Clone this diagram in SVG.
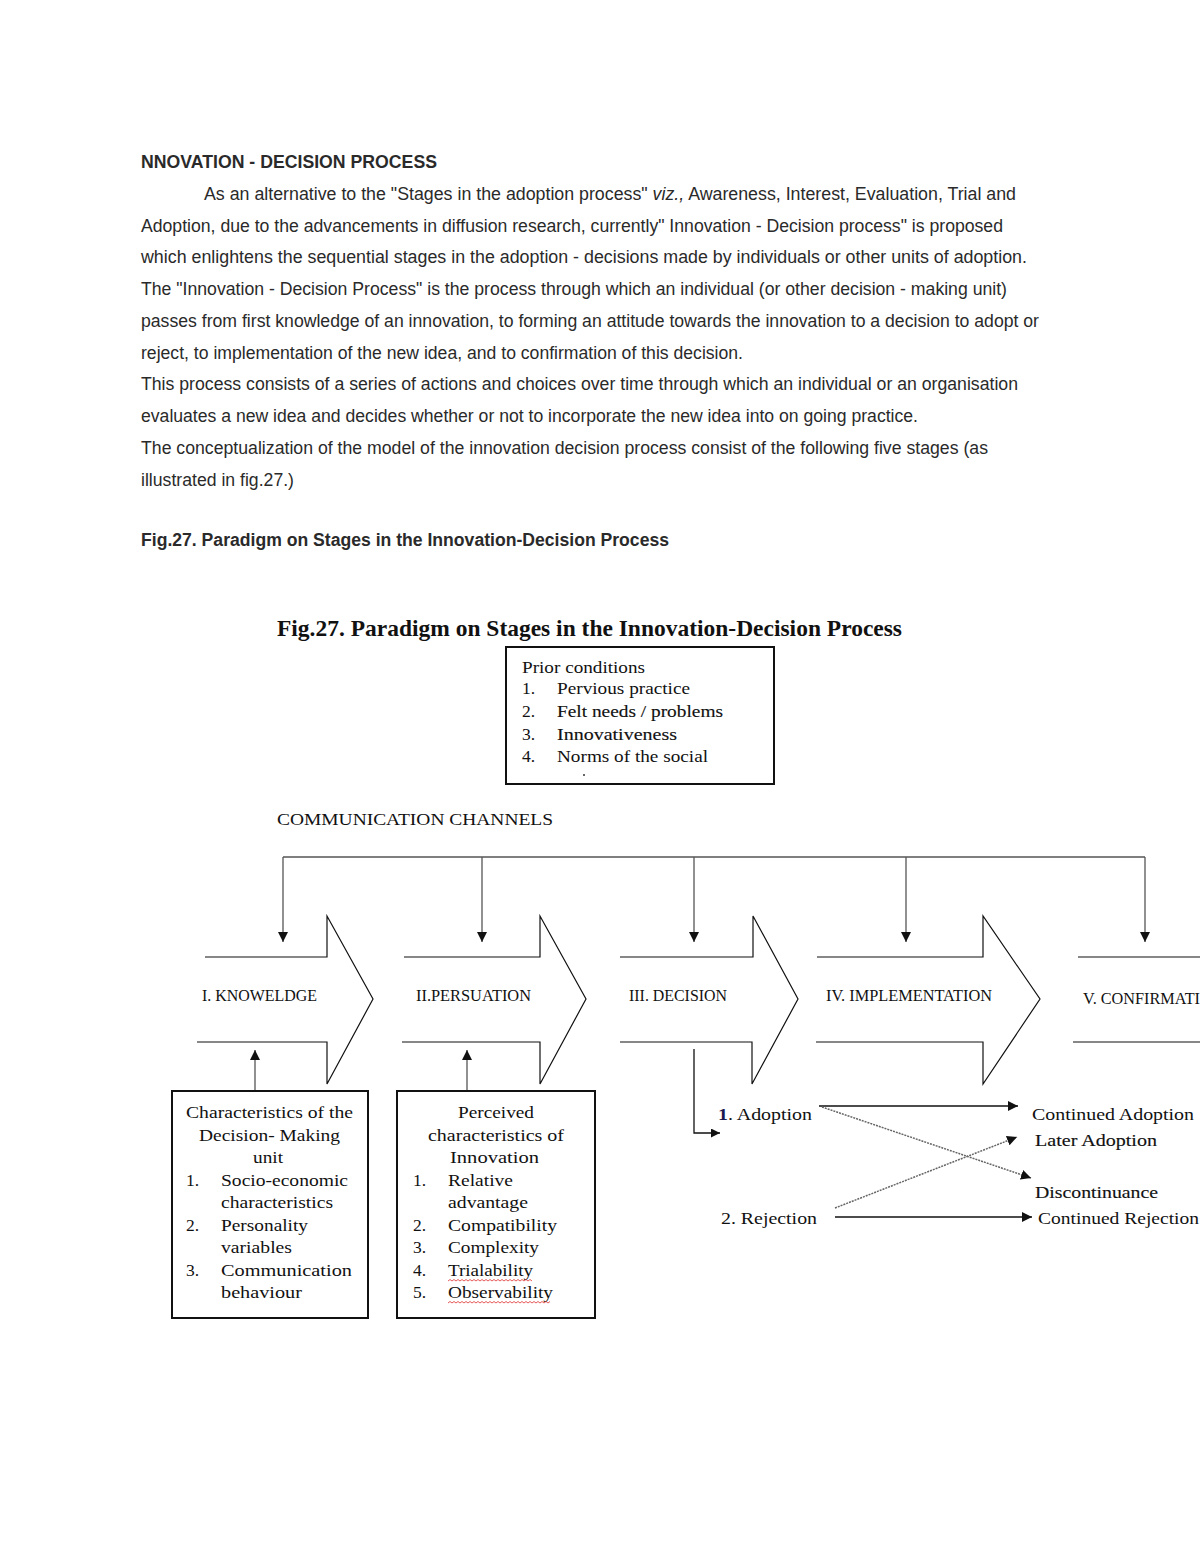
<svg xmlns="http://www.w3.org/2000/svg" width="1200" height="1553" viewBox="0 0 1200 1553">
<style>
.p{font-family:"Liberation Sans",Arial,sans-serif;font-size:17.5px;fill:#2a2a2a}
.pb{font-family:"Liberation Sans",Arial,sans-serif;font-size:17.5px;font-weight:bold;fill:#2a2a2a}
.s{font-family:"Liberation Serif","Times New Roman",serif;font-size:17.5px;fill:#111}
.st{font-family:"Liberation Serif","Times New Roman",serif;font-size:16px;fill:#111}
.t{font-family:"Liberation Serif","Times New Roman",serif;font-size:23px;font-weight:bold;fill:#111}
.hv{stroke:#111;stroke-width:0.15}
.box{fill:none;stroke:#111;stroke-width:2}
.chev{fill:none;stroke:#111;stroke-width:1.2}
.cc{fill:none;stroke:#555;stroke-width:1.3}
.ar{fill:none;stroke:#111;stroke-width:1.3}
.dot{fill:none;stroke:#666;stroke-width:1.5;stroke-dasharray:2 1}
.wavy{fill:none;stroke:#e03030;stroke-width:0.8}
</style>
<defs>
<marker id="ah" viewBox="0 0 10 10" refX="10" refY="5" markerWidth="10" markerHeight="10" markerUnits="userSpaceOnUse" orient="auto"><path d="M0,0 L10,5 L0,10 z" fill="#111"/></marker>
<marker id="ahs" viewBox="0 0 10 10" refX="10" refY="5" markerWidth="9" markerHeight="9" markerUnits="userSpaceOnUse" orient="auto"><path d="M0,0 L10,5 L0,10 z" fill="#111"/></marker>
</defs>
<rect width="1200" height="1553" fill="#fff"/>

<g id="text-body">
<text class="pb" x="141" y="168" textLength="296" lengthAdjust="spacingAndGlyphs">NNOVATION - DECISION PROCESS</text>
<text class="p" x="204" y="200" textLength="812" lengthAdjust="spacingAndGlyphs">As an alternative to the "Stages in the adoption process" <tspan font-style="italic">viz.,</tspan>  Awareness, Interest, Evaluation, Trial and</text>
<text class="p" x="141" y="232" textLength="862" lengthAdjust="spacingAndGlyphs">Adoption, due to the advancements in diffusion research, currently" Innovation - Decision process" is proposed</text>
<text class="p" x="141" y="263" textLength="886" lengthAdjust="spacingAndGlyphs">which  enlightens  the sequential stages in the adoption - decisions made by individuals or other units of adoption.</text>
<text class="p" x="141" y="295" textLength="866" lengthAdjust="spacingAndGlyphs">The "Innovation - Decision Process" is the process through which an individual (or other decision - making unit)</text>
<text class="p" x="141" y="327" textLength="898" lengthAdjust="spacingAndGlyphs">passes from first knowledge of an innovation, to forming an attitude towards the innovation to a decision to adopt or</text>
<text class="p" x="141" y="359" textLength="602" lengthAdjust="spacingAndGlyphs">reject, to implementation of the new idea, and to confirmation of this decision.</text>
<text class="p" x="141" y="390" textLength="877" lengthAdjust="spacingAndGlyphs">This process consists of a series of actions and choices over time through which an individual or an organisation</text>
<text class="p" x="141" y="422" textLength="777" lengthAdjust="spacingAndGlyphs">evaluates a new idea and decides whether or not to incorporate the new idea into on going practice.</text>
<text class="p" x="141" y="454" textLength="847" lengthAdjust="spacingAndGlyphs">The conceptualization of the model of the innovation decision process consist of the following five stages (as</text>
<text class="p" x="141" y="486" textLength="153" lengthAdjust="spacingAndGlyphs">illustrated in fig.27.)</text>
<text class="pb" x="141" y="546" textLength="528" lengthAdjust="spacingAndGlyphs">Fig.27. Paradigm on Stages in the Innovation-Decision Process</text>
</g>

<g id="diagram-title">
<text class="t" x="277" y="636" textLength="625" lengthAdjust="spacingAndGlyphs">Fig.27. Paradigm on Stages in the Innovation-Decision Process</text>
</g>

<g id="prior-conditions">
<rect class="box" x="506" y="647" width="268" height="137"/>
<text class="s" x="522" y="673" textLength="123" lengthAdjust="spacingAndGlyphs">Prior conditions</text>
<text class="s" x="522" y="694">1.</text>
<text class="s" x="557" y="694" textLength="133" lengthAdjust="spacingAndGlyphs">Pervious practice</text>
<text class="s" x="522" y="717">2.</text>
<text class="s hv" x="557" y="717" textLength="166" lengthAdjust="spacingAndGlyphs">Felt needs / problems</text>
<text class="s" x="522" y="740">3.</text>
<text class="s hv" x="557" y="740" textLength="120" lengthAdjust="spacingAndGlyphs">Innovativeness</text>
<text class="s" x="522" y="762">4.</text>
<text class="s" x="557" y="762" textLength="151" lengthAdjust="spacingAndGlyphs">Norms of the social</text>
<circle cx="584" cy="775" r="1" fill="#333"/>
</g>

<g id="communication-channels">
<text class="s" x="277" y="825" textLength="276" lengthAdjust="spacingAndGlyphs">COMMUNICATION CHANNELS</text>
</g>

<g id="connectors">
<path class="cc" d="M283,857 H1145"/>
<path class="cc" d="M283,857 V942" marker-end="url(#ah)"/>
<path class="cc" d="M482,857 V942" marker-end="url(#ah)"/>
<path class="cc" d="M694,857 V942" marker-end="url(#ah)"/>
<path class="cc" d="M906,857 V942" marker-end="url(#ah)"/>
<path class="cc" d="M1145,857 V942" marker-end="url(#ah)"/>
<path class="cc" d="M255,1090 V1050" marker-end="url(#ah)"/>
<path class="cc" d="M467,1090 V1050" marker-end="url(#ah)"/>
<path class="ar" d="M694,1049 V1133 H720" marker-end="url(#ahs)"/>
<path class="ar" d="M819,1106 H1018" marker-end="url(#ah)"/>
<path class="ar" d="M835,1217 H1032" marker-end="url(#ah)"/>
<path class="dot" d="M822,1107 L1031,1178" marker-end="url(#ah)"/>
<path class="dot" d="M835,1208 L1017,1137" marker-end="url(#ah)"/>
</g>

<g id="stage-knowledge">
<path class="chev" d="M205,957 H327 V916 L373,999 L327,1084 V1042 H197"/>
<text class="st" x="202" y="1001" textLength="115" lengthAdjust="spacingAndGlyphs">I. KNOWELDGE</text>
</g>
<g id="stage-persuasion">
<path class="chev" d="M404,957 H540 V916 L586,999 L540,1084 V1042 H402"/>
<text class="st" x="416" y="1001" textLength="115" lengthAdjust="spacingAndGlyphs">II.PERSUATION</text>
</g>
<g id="stage-decision">
<path class="chev" d="M620,957 H753 V916 L798,999 L752,1084 V1042 H620"/>
<text class="st" x="629" y="1001" textLength="98" lengthAdjust="spacingAndGlyphs">III. DECISION</text>
</g>
<g id="stage-implementation">
<path class="chev" d="M817,957 H983 V916 L1040,999 L983,1084 V1042 H816"/>
<text class="st" x="826" y="1001" textLength="166" lengthAdjust="spacingAndGlyphs">IV. IMPLEMENTATION</text>
</g>
<g id="stage-confirmation">
<path class="chev" d="M1078,957 H1200 M1073,1042 H1200"/>
<text class="st" x="1083" y="1004" textLength="117" lengthAdjust="spacingAndGlyphs">V. CONFIRMATI</text>
</g>

<g id="decision-unit-box">
<rect class="box" x="172" y="1091" width="196" height="227"/>
<text class="s" x="186" y="1118" textLength="167" lengthAdjust="spacingAndGlyphs">Characteristics of the</text>
<text class="s" x="199" y="1141" textLength="141" lengthAdjust="spacingAndGlyphs">Decision- Making</text>
<text class="s" x="253" y="1163" textLength="30" lengthAdjust="spacingAndGlyphs">unit</text>
<text class="s" x="186" y="1186">1.</text>
<text class="s" x="221" y="1186" textLength="127" lengthAdjust="spacingAndGlyphs">Socio-economic</text>
<text class="s" x="221" y="1208" textLength="112" lengthAdjust="spacingAndGlyphs">characteristics</text>
<text class="s" x="186" y="1231">2.</text>
<text class="s" x="221" y="1231" textLength="87" lengthAdjust="spacingAndGlyphs">Personality</text>
<text class="s" x="221" y="1253" textLength="71" lengthAdjust="spacingAndGlyphs">variables</text>
<text class="s" x="186" y="1276">3.</text>
<text class="s" x="221" y="1276" textLength="131" lengthAdjust="spacingAndGlyphs">Communication</text>
<text class="s" x="221" y="1298" textLength="81" lengthAdjust="spacingAndGlyphs">behaviour</text>
</g>

<g id="innovation-box">
<rect class="box" x="397" y="1091" width="198" height="227"/>
<text class="s" x="458" y="1118" textLength="76" lengthAdjust="spacingAndGlyphs">Perceived</text>
<text class="s" x="428" y="1141" textLength="136" lengthAdjust="spacingAndGlyphs">characteristics of</text>
<text class="s" x="450" y="1163" textLength="89" lengthAdjust="spacingAndGlyphs">Innovation</text>
<text class="s" x="413" y="1186">1.</text>
<text class="s" x="448" y="1186" textLength="65" lengthAdjust="spacingAndGlyphs">Relative</text>
<text class="s" x="448" y="1208" textLength="80" lengthAdjust="spacingAndGlyphs">advantage</text>
<text class="s" x="413" y="1231">2.</text>
<text class="s" x="448" y="1231" textLength="109" lengthAdjust="spacingAndGlyphs">Compatibility</text>
<text class="s" x="413" y="1253">3.</text>
<text class="s" x="448" y="1253" textLength="91" lengthAdjust="spacingAndGlyphs">Complexity</text>
<text class="s" x="413" y="1276">4.</text>
<text class="s" x="448" y="1276" textLength="85" lengthAdjust="spacingAndGlyphs">Trialability</text>
<text class="s" x="413" y="1298">5.</text>
<text class="s" x="448" y="1298" textLength="105" lengthAdjust="spacingAndGlyphs">Observability</text>
<path class="wavy" d="M448,1281 l2,-1.5 l2,1.5 l2,-1.5 l2,1.5 l2,-1.5 l2,1.5 l2,-1.5 l2,1.5 l2,-1.5 l2,1.5 l2,-1.5 l2,1.5 l2,-1.5 l2,1.5 l2,-1.5 l2,1.5 l2,-1.5 l2,1.5 l2,-1.5 l2,1.5 l2,-1.5 l2,1.5 l2,-1.5 l2,1.5 l2,-1.5 l2,1.5 l2,-1.5 l2,1.5 l2,-1.5 l2,1.5 l2,-1.5 l2,1.5 l2,-1.5 l2,1.5 l2,-1.5 l2,1.5 l2,-1.5 l2,1.5 l2,-1.5 l2,1.5 l2,-1.5 l2,1.5"/>
<path class="wavy" d="M448,1303 l2,-1.5 l2,1.5 l2,-1.5 l2,1.5 l2,-1.5 l2,1.5 l2,-1.5 l2,1.5 l2,-1.5 l2,1.5 l2,-1.5 l2,1.5 l2,-1.5 l2,1.5 l2,-1.5 l2,1.5 l2,-1.5 l2,1.5 l2,-1.5 l2,1.5 l2,-1.5 l2,1.5 l2,-1.5 l2,1.5 l2,-1.5 l2,1.5 l2,-1.5 l2,1.5 l2,-1.5 l2,1.5 l2,-1.5 l2,1.5 l2,-1.5 l2,1.5 l2,-1.5 l2,1.5 l2,-1.5 l2,1.5 l2,-1.5 l2,1.5 l2,-1.5 l2,1.5 l2,-1.5 l2,1.5 l2,-1.5 l2,1.5 l2,-1.5 l2,1.5 l2,-1.5 l2,1.5 l2,-1.5"/>
</g>

<g id="outcome-adoption">
<text class="s" x="718" y="1120" textLength="94" lengthAdjust="spacingAndGlyphs"><tspan font-weight="bold" fill="#1a1a50">1</tspan>. Adoption</text>
</g>
<g id="outcome-rejection">
<text class="s" x="721" y="1224" textLength="96" lengthAdjust="spacingAndGlyphs">2. Rejection</text>
</g>
<g id="continued-adoption">
<text class="s" x="1032" y="1120" textLength="162" lengthAdjust="spacingAndGlyphs">Continued Adoption</text>
</g>
<g id="later-adoption">
<text class="s hv" x="1035" y="1146" textLength="122" lengthAdjust="spacingAndGlyphs">Later Adoption</text>
</g>
<g id="discontinuance">
<text class="s hv" x="1035" y="1198" textLength="123" lengthAdjust="spacingAndGlyphs">Discontinuance</text>
</g>
<g id="continued-rejection">
<text class="s" x="1038" y="1224" textLength="161" lengthAdjust="spacingAndGlyphs">Continued Rejection</text>
</g>
</svg>
